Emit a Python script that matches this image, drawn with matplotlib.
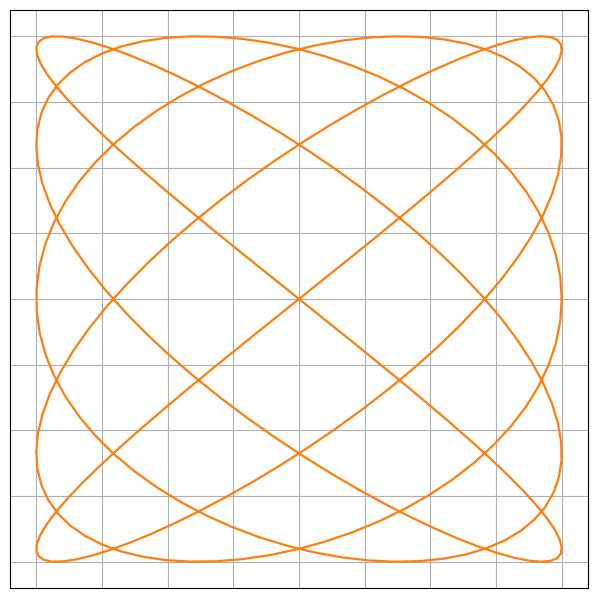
import numpy as np
import matplotlib
matplotlib.use("Agg")
import matplotlib.pyplot as plt

# Lissajous parameters
freq_x = 5          # touches on the left/right edge
freq_y = 4          # touches on the top/bottom edge
phase = np.pi / 2
n_points = 300

grid_ticks = [-1.0, -0.75, -0.5, -0.25, 0.0, 0.25, 0.5, 0.75, 1.0]

t = np.linspace(0, 2 * np.pi, n_points)
x = np.sin(freq_x * t + phase)
y = np.sin(freq_y * t)

fig = plt.figure(figsize=(6, 6), dpi=100)
ax = fig.add_axes([10 / 600, 12 / 600, 578 / 600, 578 / 600])
ax.plot(x, y, color='#ff7f0e', linewidth=1.6)
ax.set_xticks(grid_ticks)
ax.set_yticks(grid_ticks)
ax.tick_params(length=0, labelbottom=False, labelleft=False)
ax.grid(True, color='#b0b0b0', linewidth=0.8)
ax.set_axisbelow(True)

fig.savefig("out.png", dpi=100)
